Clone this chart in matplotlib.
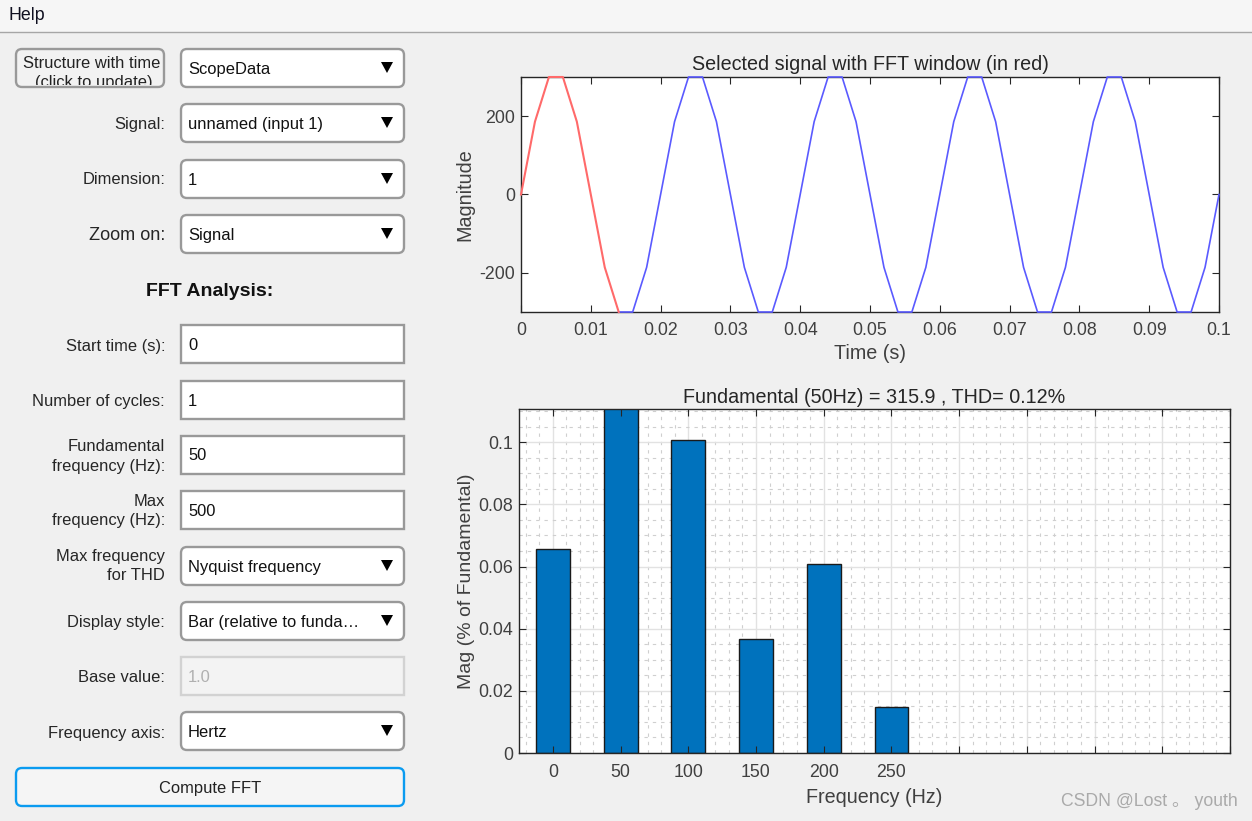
from matplotlib import pyplot as plt
from matplotlib.patches import FancyBboxPatch, Rectangle, Polygon
from matplotlib.ticker import MultipleLocator
import numpy as np

plt.rcParams['font.family'] = ['Liberation Sans', 'Noto Sans CJK SC', 'DejaVu Sans']

# signal, one sample each 2 ms
sig_time = [0.000, 0.002, 0.004, 0.006, 0.008, 0.010, 0.012, 0.014, 0.016, 0.018,
            0.020, 0.022, 0.024, 0.026, 0.028, 0.030, 0.032, 0.034, 0.036, 0.038,
            0.040, 0.042, 0.044, 0.046, 0.048, 0.050, 0.052, 0.054, 0.056, 0.058,
            0.060, 0.062, 0.064, 0.066, 0.068, 0.070, 0.072, 0.074, 0.076, 0.078,
            0.080, 0.082, 0.084, 0.086, 0.088, 0.090, 0.092, 0.094, 0.096, 0.098, 0.100]
sig_value = [0, 186, 300, 300, 186, 0, -186, -300, -300, -186,
             0, 186, 300, 300, 186, 0, -186, -300, -300, -186,
             0, 186, 300, 300, 186, 0, -186, -300, -300, -186,
             0, 186, 300, 300, 186, 0, -186, -300, -300, -186,
             0, 186, 300, 300, 186, 0, -186, -300, -300, -186, 0]
n_red = 8

# spectrum
freqs = [0, 50, 100, 150, 200, 250]
mags = [0.0656, 100, 0.1006, 0.0367, 0.0607, 0.0149]

time_ticks = [0, 0.01, 0.02, 0.03, 0.04, 0.05, 0.06, 0.07, 0.08, 0.09, 0.1]
time_labels = ['0', '0.01', '0.02', '0.03', '0.04', '0.05', '0.06', '0.07', '0.08', '0.09', '0.1']
sig_ticks = [-200, 0, 200]
sig_labels = ['-200', '0', '200']
mag_ticks = [0, 0.02, 0.04, 0.06, 0.08, 0.1]
mag_labels = ['0', '0.02', '0.04', '0.06', '0.08', '0.1']

# panel content
dropdowns = [(49, 'ScopeData'), (104, 'unnamed (input 1)'), (160, '1'), (215, 'Signal'),
             (547, 'Nyquist frequency'), (602, 'Bar (relative to funda\u2026'), (712, 'Hertz')]
edits = [(325, '0'), (381, '1'), (436, '50'), (491, '500')]
labels = [(125, 'Signal:', 11.85), (180, 'Dimension:', 11.85), (235, 'Zoom on:', 13.1),
          (346, 'Start time (s):', 11.85), (401.5, 'Number of cycles:', 11.85),
          (446.5, 'Fundamental', 11.85), (466, 'frequency (Hz):', 11.85),
          (501, 'Max', 11.85), (520, 'frequency (Hz):', 11.85),
          (556, 'Max frequency', 11.85), (575, 'for THD', 11.85),
          (622, 'Display style:', 11.85), (677, 'Base value:', 11.85),
          (733.5, 'Frequency axis:', 11.85)]

W, H = 1252, 821
BG = '#f0f0f0'
fig = plt.figure(figsize=(W / 100, H / 100), dpi=100, facecolor=BG)


def axes_px(left, top, right, bottom):
    return [left / W, 1 - bottom / H, (right - left) / W, (bottom - top) / H]


ui = fig.add_axes([0, 0, 1, 1])
ui.set_xlim(0, W)
ui.set_ylim(H, 0)
ui.axis('off')


def round_box(x0, y0, x1, y1, edge='#999999', face='white', lw=1.7):
    p = FancyBboxPatch((x0 + 5, y0 + 5), x1 - x0 - 10, y1 - y0 - 10,
                       boxstyle='round,pad=5,rounding_size=6', ec=edge, fc=face, lw=lw)
    ui.add_patch(p)
    return p


ui.add_patch(Rectangle((0, 0), W, 32, fc='#f6f6f6', ec='none'))
ui.plot([0, W], [32.5, 32.5], color='#a6a6a6', lw=1)
ui.text(8, 16, 'Help', fontsize=12.8, va='center', color='#101020')

round_box(16, 49, 164, 87, face='#f2f2f2')
for y, s in [(64, 'Structure with time:'), (83, '(click to update)')]:
    t = ui.text(93.5, y, s, fontsize=11.85, ha='center', va='center', color='#222222')
    t.set_clip_on(True)
    t.set_clip_path(Rectangle((22, 50), 139, 35, transform=ui.transData))

for top, s in dropdowns:
    round_box(181, top, 404, top + 38)
    ui.text(188, top + 20.5, s, fontsize=11.85, va='center', color='#111111')
    ui.add_patch(Polygon([[381, top + 13], [393, top + 13], [387, top + 24]], fc='black', ec='none'))

for top, s in edits:
    ui.add_patch(Rectangle((181, top), 223, 38, fc='white', ec='#999999', lw=1.7))
    ui.text(188, top + 20, s, fontsize=11.85, va='center', color='#111111')

ui.add_patch(Rectangle((181, 657), 223, 38, fc='#f3f3f3', ec='#d2d2d2', lw=1.7))
ui.text(188, 677, '1.0', fontsize=11.85, va='center', color='#b0b0b0')

for y, s, size in labels:
    ui.text(165, y, s, fontsize=size, ha='right', va='center', color='#262626')

ui.text(210, 291, 'FFT Analysis:', fontsize=14, fontweight='bold', ha='center', va='center', color='#111111')

round_box(16, 768, 404, 806, edge='#0a9bf0', face='#f5f5f5')
ui.text(210, 788, 'Compute FFT', fontsize=11.85, ha='center', va='center', color='#222222')

ui.text(1238, 802, 'CSDN @Lost \u3002 youth', fontsize=12.7, ha='right', va='center', color='#aaaaaa')

# signal plot, lines left unclipped so the flat tops show over the frame
ax1 = fig.add_axes(axes_px(521, 77, 1219, 312))
ax1.plot(sig_time[n_red - 1:], sig_value[n_red - 1:], color='#5a5aff', lw=1.2, zorder=3, clip_on=False)
ax1.plot(sig_time[:n_red], sig_value[:n_red], color='#ff6a6a', lw=1.5, zorder=3, clip_on=False)
ax1.set_xlim(0, 0.1)
ax1.set_ylim(-300, 300)
ax1.set_xticks(time_ticks, time_labels)
ax1.set_yticks(sig_ticks, sig_labels)
ax1.set_title('Selected signal with FFT window (in red)', fontsize=14.2, color='#262626', pad=5)
ax1.set_xlabel('Time (s)', fontsize=14.2, color='#404040', labelpad=4)
ax1.set_ylabel('Magnitude', fontsize=14.2, color='#404040', labelpad=4)

# grid on its own axes so the ticks can stay over the bars
bg = fig.add_axes(axes_px(519, 409, 1230, 753))
bg.set_xlim(-25, 500)
bg.set_ylim(0, 0.1107)
bg.xaxis.set_major_locator(MultipleLocator(50))
bg.xaxis.set_minor_locator(MultipleLocator(10))
bg.yaxis.set_major_locator(MultipleLocator(0.02))
bg.yaxis.set_minor_locator(MultipleLocator(0.005))
bg.grid(which='major', color='#e2e2e2', lw=1)
bg.grid(which='minor', color='#cfcfcf', lw=0.8, ls=(0, (3, 4.5)))
bg.tick_params(which='both', length=0, labelbottom=False, labelleft=False)
for s in bg.spines.values():
    s.set_visible(False)

ax2 = fig.add_axes(axes_px(519, 409, 1230, 753))
ax2.patch.set_visible(False)
ax2.bar(freqs, mags, width=25, color='#0072BD', edgecolor='#1a1a1a', lw=1)
ax2.set_xlim(-25, 500)
ax2.set_ylim(0, 0.1107)
ax2.set_xticks(np.arange(0, 550, 50), ['0', '50', '100', '150', '200', '250', '', '', '', '', ''])
ax2.set_yticks(mag_ticks, mag_labels)
ax2.set_title('Fundamental (50Hz) = 315.9 , THD= 0.12%', fontsize=14.2, color='#262626', pad=4)
ax2.set_xlabel('Frequency (Hz)', fontsize=14.2, color='#404040', labelpad=5)
ax2.set_ylabel('Mag (% of Fundamental)', fontsize=14, color='#404040', labelpad=3)

for ax, xpad in ((ax1, 7), (ax2, 8)):
    ax.tick_params(which='major', direction='in', length=5, width=0.8, color='#262626',
                   top=True, right=True, labelsize=12.8, labelcolor='#404040')
    ax.tick_params(axis='x', pad=xpad)
    ax.tick_params(axis='y', pad=4)
    for s in ax.spines.values():
        s.set_color('#262626')
        s.set_linewidth(1)

fig.savefig('out.png', dpi=100, facecolor=BG)
